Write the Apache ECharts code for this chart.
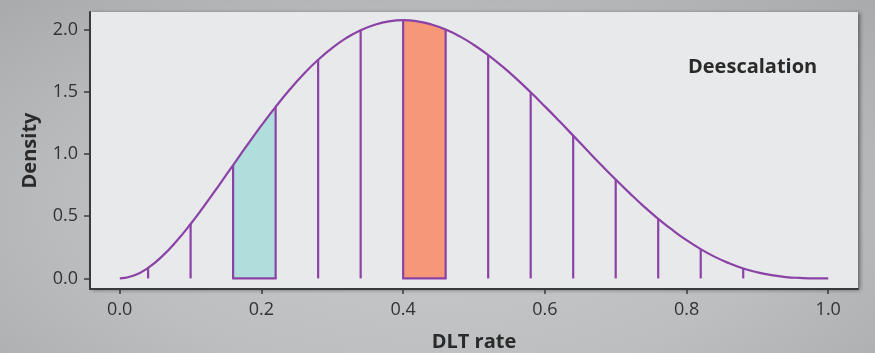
<!DOCTYPE html>
<html>
<head>
<meta charset="utf-8">
<script src="https://cdn.jsdelivr.net/npm/echarts@6.0.0/dist/echarts.min.js"></script>
<style>
  html, body { margin:0; padding:0; }
  body { width:875px; height:353px; overflow:hidden;
    background: radial-gradient(ellipse at 50% 60%, #c9cacc 0%, #bdbec0 55%, #a9aaac 100%); }
  #chart { width:875px; height:353px; }
</style>
</head>
<body>
<div id="chart"></div>
<script>
// ---- data ----
const densityX = [0,0.02,0.04,0.06,0.08,0.10,0.12,0.14,0.16,0.18,0.20,0.22,0.24,0.26,0.28,0.30,0.32,0.34,0.36,0.38,0.40,0.42,0.44,0.46,0.48,0.50,0.52,0.54,0.56,0.58,0.60,0.62,0.64,0.66,0.68,0.70,0.72,0.74,0.76,0.78,0.80,0.82,0.84,0.86,0.88,0.90,0.92,0.94,0.96,0.98,1.00];
const density  = [0,0.023,0.085,0.179,0.299,0.437,0.589,0.748,0.910,1.072,1.229,1.378,1.517,1.644,1.756,1.852,1.932,1.994,2.038,2.065,2.074,2.065,2.040,1.999,1.944,1.875,1.794,1.703,1.603,1.495,1.382,1.266,1.147,1.027,0.909,0.794,0.683,0.577,0.479,0.389,0.307,0.235,0.173,0.122,0.080,0.049,0.026,0.011,0.004,0.0005,0];
const cutX = [0.04,0.10,0.16,0.22,0.28,0.34,0.40,0.46,0.52,0.58,0.64,0.70,0.76,0.82,0.88];
const tealBand = [0.16, 0.22];
const orangeBand = [0.40, 0.46];
const xTicks = [0,0.2,0.4,0.6,0.8,1.0];
const yTicks = [0,0.5,1.0,1.5,2.0];
const panelLabel = 'Deescalation';

// ---- build ----
const PURPLE = '#8a42a6';
const curve = densityX.map((x,i)=>[x, density[i]]);
function densAt(x){ let best=0; densityX.forEach((v,i)=>{ if (Math.abs(v-x) < Math.abs(densityX[best]-x)) best=i; }); return density[best]; }
const cuts = cutX.map(x=>[x, densAt(x)]);
function band(b){ return curve.filter(p=>p[0] >= b[0]-1e-9 && p[0] <= b[1]+1e-9); }

const chart = echarts.init(document.getElementById('chart'), null, {renderer:'canvas'});
const txt = '#333333';
const fontFam = '"Open Sans", "Noto Sans", sans-serif';
chart.setOption({
  backgroundColor: 'transparent',
  animation: false,
  grid: { left: 90, right: 17, top: 12, bottom: 64, show: true, containLabel: false, outerBoundsMode: 'none',
    backgroundColor: '#e8e9ea', borderWidth: 0,
    shadowColor: 'rgba(0,0,0,0.45)', shadowBlur: 4, shadowOffsetX: 2, shadowOffsetY: 1 },
  xAxis: {
    type: 'value', min: -0.042, max: 1.042,
    name: 'DLT rate', nameLocation: 'middle', nameGap: 43,
    nameTextStyle: { fontFamily: fontFam, fontWeight: 'bold', fontSize: 20, color: '#2a2a2a' },
    axisLine: { show: true, onZero: false, lineStyle: { color: '#3a3a3a', width: 2 } },
    axisTick: { show: true, customValues: xTicks, length: 5, lineStyle: { color: '#3a3a3a', width: 1.5 } },
    axisLabel: { customValues: xTicks, margin: 12, fontFamily: fontFam, fontSize: 18, color: txt,
      formatter: v => v.toFixed(1) },
    splitLine: { show: false }
  },
  yAxis: {
    type: 'value', min: -0.085, max: 2.14,
    name: 'Density', nameLocation: 'middle', nameGap: 50,
    nameTextStyle: { fontFamily: fontFam, fontWeight: 'bold', fontSize: 20, color: '#2a2a2a' },
    axisLine: { show: true, onZero: false, lineStyle: { color: '#3a3a3a', width: 2 } },
    axisTick: { show: true, customValues: yTicks, length: 6, lineStyle: { color: '#3a3a3a', width: 1.5 } },
    axisLabel: { customValues: yTicks, margin: 12, fontFamily: fontFam, fontSize: 18, color: txt,
      formatter: v => v.toFixed(1) },
    splitLine: { show: false }
  },
  graphic: [{
    type: 'text', left: 688, top: 57, z: 100,
    style: { text: panelLabel, font: 'bold 20px ' + fontFam, fill: '#2a2a2a' }
  }],
  series: [
    { type: 'line', data: band(tealBand), smooth: true, symbol: 'none',
      lineStyle: { width: 0 }, areaStyle: { color: '#b0dedc', opacity: 1 }, z: 1 },
    { type: 'line', data: band(orangeBand), smooth: true, symbol: 'none',
      lineStyle: { width: 0 }, areaStyle: { color: '#f69878', opacity: 1 }, z: 1 },
    { type: 'line', data: curve, smooth: true, symbol: 'none',
      lineStyle: { color: PURPLE, width: 2.2 }, z: 3 },
    { type: 'custom', data: cuts, z: 3,
      renderItem: (params, api) => {
        const x = api.value(0), h = api.value(1);
        const p0 = api.coord([x, 0]), p1 = api.coord([x, h]);
        return { type: 'line', shape: { x1: p0[0], y1: p0[1], x2: p1[0], y2: p1[1] },
          style: { stroke: PURPLE, lineWidth: 2.2 } };
      } },
    { type: 'custom', data: [tealBand, orangeBand], z: 3,
      renderItem: (params, api) => {
        const p0 = api.coord([api.value(0), 0]), p1 = api.coord([api.value(1), 0]);
        return { type: 'line', shape: { x1: p0[0]-1, y1: p0[1], x2: p1[0]+1, y2: p1[1] },
          style: { stroke: PURPLE, lineWidth: 2.2 } };
      } }
  ]
});
</script>
</body>
</html>
